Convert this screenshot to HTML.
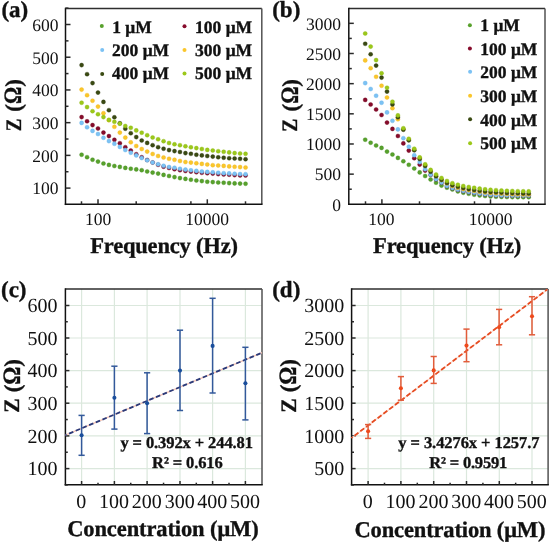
<!DOCTYPE html>
<html><head><meta charset="utf-8"><style>
html,body{margin:0;padding:0;background:#fff;overflow:hidden;width:550px;height:542px;}
svg{display:block;will-change:transform;}
text{font-family:"Liberation Serif",serif;fill:#111;text-rendering:geometricPrecision;}
text[font-weight=bold]{stroke:#111;stroke-width:0.35px;}
</style></head><body>
<svg width="550" height="542" viewBox="0 0 550 542">
<rect width="550" height="542" fill="#fff"/>
<line x1="65.5" y1="8.5" x2="261.8" y2="8.5" stroke="#2e2e2e" stroke-width="1.5"/><line x1="261.8" y1="8.5" x2="261.8" y2="204.3" stroke="#525252" stroke-width="1.5"/><line x1="65.5" y1="7.75" x2="65.5" y2="205.05" stroke="#111" stroke-width="1.5"/><line x1="64.75" y1="204.3" x2="262.55" y2="204.3" stroke="#111" stroke-width="1.5"/>
<line x1="65.5" y1="188.10" x2="70.5" y2="188.10" stroke="#2a2a2a" stroke-width="1.5"/><line x1="65.5" y1="155.38" x2="70.5" y2="155.38" stroke="#2a2a2a" stroke-width="1.5"/><line x1="65.5" y1="122.66" x2="70.5" y2="122.66" stroke="#2a2a2a" stroke-width="1.5"/><line x1="65.5" y1="89.94" x2="70.5" y2="89.94" stroke="#2a2a2a" stroke-width="1.5"/><line x1="65.5" y1="57.22" x2="70.5" y2="57.22" stroke="#2a2a2a" stroke-width="1.5"/><line x1="65.5" y1="24.50" x2="70.5" y2="24.50" stroke="#2a2a2a" stroke-width="1.5"/>
<line x1="65.5" y1="171.74" x2="68.5" y2="171.74" stroke="#2a2a2a" stroke-width="1.5"/><line x1="65.5" y1="139.02" x2="68.5" y2="139.02" stroke="#2a2a2a" stroke-width="1.5"/><line x1="65.5" y1="106.30" x2="68.5" y2="106.30" stroke="#2a2a2a" stroke-width="1.5"/><line x1="65.5" y1="73.58" x2="68.5" y2="73.58" stroke="#2a2a2a" stroke-width="1.5"/><line x1="65.5" y1="40.86" x2="68.5" y2="40.86" stroke="#2a2a2a" stroke-width="1.5"/><line x1="65.5" y1="8.14" x2="68.5" y2="8.14" stroke="#2a2a2a" stroke-width="1.5"/>
<line x1="98.00" y1="204.3" x2="98.00" y2="199.3" stroke="#2a2a2a" stroke-width="1.5"/><line x1="207.30" y1="204.3" x2="207.30" y2="199.3" stroke="#2a2a2a" stroke-width="1.5"/>
<line x1="81.50" y1="204.3" x2="81.50" y2="201.3" stroke="#2a2a2a" stroke-width="1.5"/><line x1="136.20" y1="204.3" x2="136.20" y2="201.3" stroke="#2a2a2a" stroke-width="1.5"/><line x1="190.90" y1="204.3" x2="190.90" y2="201.3" stroke="#2a2a2a" stroke-width="1.5"/><line x1="245.50" y1="204.3" x2="245.50" y2="201.3" stroke="#2a2a2a" stroke-width="1.5"/>
<g fill="#58a12c" stroke="#3f8a1c" stroke-width="0.35"><circle cx="81.60" cy="154.70" r="2.05"/><circle cx="87.06" cy="157.20" r="2.05"/><circle cx="92.53" cy="159.70" r="2.05"/><circle cx="97.99" cy="161.60" r="2.05"/><circle cx="103.46" cy="163.50" r="2.05"/><circle cx="108.92" cy="164.90" r="2.05"/><circle cx="114.39" cy="166.00" r="2.05"/><circle cx="119.85" cy="166.90" r="2.05"/><circle cx="125.32" cy="167.90" r="2.05"/><circle cx="130.78" cy="168.70" r="2.05"/><circle cx="136.25" cy="169.40" r="2.05"/><circle cx="141.71" cy="170.20" r="2.05"/><circle cx="147.18" cy="171.50" r="2.05"/><circle cx="152.64" cy="172.60" r="2.05"/><circle cx="158.11" cy="173.60" r="2.05"/><circle cx="163.57" cy="174.90" r="2.05"/><circle cx="169.04" cy="176.00" r="2.05"/><circle cx="174.50" cy="177.10" r="2.05"/><circle cx="179.97" cy="178.10" r="2.05"/><circle cx="185.44" cy="178.90" r="2.05"/><circle cx="190.90" cy="179.70" r="2.05"/><circle cx="196.37" cy="180.50" r="2.05"/><circle cx="201.83" cy="181.10" r="2.05"/><circle cx="207.29" cy="181.70" r="2.05"/><circle cx="212.76" cy="182.10" r="2.05"/><circle cx="218.22" cy="182.50" r="2.05"/><circle cx="223.69" cy="182.70" r="2.05"/><circle cx="229.16" cy="183.10" r="2.05"/><circle cx="234.62" cy="183.40" r="2.05"/><circle cx="240.08" cy="183.60" r="2.05"/><circle cx="245.55" cy="183.70" r="2.05"/></g>
<g fill="#870c2c" stroke="#6a0018" stroke-width="0.35"><circle cx="81.60" cy="117.10" r="2.05"/><circle cx="87.06" cy="121.30" r="2.05"/><circle cx="92.53" cy="125.10" r="2.05"/><circle cx="97.99" cy="128.50" r="2.05"/><circle cx="103.46" cy="132.60" r="2.05"/><circle cx="108.92" cy="136.10" r="2.05"/><circle cx="114.39" cy="139.80" r="2.05"/><circle cx="119.85" cy="143.20" r="2.05"/><circle cx="125.32" cy="147.20" r="2.05"/><circle cx="130.78" cy="150.50" r="2.05"/><circle cx="136.25" cy="154.20" r="2.05"/><circle cx="141.71" cy="157.20" r="2.05"/><circle cx="147.18" cy="160.00" r="2.05"/><circle cx="152.64" cy="162.50" r="2.05"/><circle cx="158.11" cy="164.80" r="2.05"/><circle cx="163.57" cy="166.70" r="2.05"/><circle cx="169.04" cy="168.00" r="2.05"/><circle cx="174.50" cy="169.20" r="2.05"/><circle cx="179.97" cy="170.20" r="2.05"/><circle cx="185.44" cy="171.00" r="2.05"/><circle cx="190.90" cy="171.60" r="2.05"/><circle cx="196.37" cy="172.20" r="2.05"/><circle cx="201.83" cy="172.80" r="2.05"/><circle cx="207.29" cy="173.20" r="2.05"/><circle cx="212.76" cy="173.60" r="2.05"/><circle cx="218.22" cy="174.10" r="2.05"/><circle cx="223.69" cy="174.50" r="2.05"/><circle cx="229.16" cy="174.70" r="2.05"/><circle cx="234.62" cy="175.10" r="2.05"/><circle cx="240.08" cy="175.40" r="2.05"/><circle cx="245.55" cy="175.50" r="2.05"/></g>
<g fill="#7cc2f4" stroke="#5eaee6" stroke-width="0.35"><circle cx="81.60" cy="122.90" r="2.05"/><circle cx="87.06" cy="127.30" r="2.05"/><circle cx="92.53" cy="130.90" r="2.05"/><circle cx="97.99" cy="134.00" r="2.05"/><circle cx="103.46" cy="137.80" r="2.05"/><circle cx="108.92" cy="141.10" r="2.05"/><circle cx="114.39" cy="143.80" r="2.05"/><circle cx="119.85" cy="146.90" r="2.05"/><circle cx="125.32" cy="150.00" r="2.05"/><circle cx="130.78" cy="152.70" r="2.05"/><circle cx="136.25" cy="155.40" r="2.05"/><circle cx="141.71" cy="158.00" r="2.05"/><circle cx="147.18" cy="160.30" r="2.05"/><circle cx="152.64" cy="162.50" r="2.05"/><circle cx="158.11" cy="164.20" r="2.05"/><circle cx="163.57" cy="165.80" r="2.05"/><circle cx="169.04" cy="167.00" r="2.05"/><circle cx="174.50" cy="167.80" r="2.05"/><circle cx="179.97" cy="168.80" r="2.05"/><circle cx="185.44" cy="169.60" r="2.05"/><circle cx="190.90" cy="170.30" r="2.05"/><circle cx="196.37" cy="170.90" r="2.05"/><circle cx="201.83" cy="171.50" r="2.05"/><circle cx="207.29" cy="171.90" r="2.05"/><circle cx="212.76" cy="172.30" r="2.05"/><circle cx="218.22" cy="172.80" r="2.05"/><circle cx="223.69" cy="173.20" r="2.05"/><circle cx="229.16" cy="173.40" r="2.05"/><circle cx="234.62" cy="173.80" r="2.05"/><circle cx="240.08" cy="174.10" r="2.05"/><circle cx="245.55" cy="174.20" r="2.05"/></g>
<g fill="#fac62c" stroke="#eeb414" stroke-width="0.35"><circle cx="81.60" cy="89.60" r="2.05"/><circle cx="87.06" cy="95.20" r="2.05"/><circle cx="92.53" cy="100.70" r="2.05"/><circle cx="97.99" cy="106.60" r="2.05"/><circle cx="103.46" cy="113.20" r="2.05"/><circle cx="108.92" cy="120.20" r="2.05"/><circle cx="114.39" cy="126.80" r="2.05"/><circle cx="119.85" cy="132.60" r="2.05"/><circle cx="125.32" cy="137.60" r="2.05"/><circle cx="130.78" cy="142.30" r="2.05"/><circle cx="136.25" cy="146.00" r="2.05"/><circle cx="141.71" cy="149.00" r="2.05"/><circle cx="147.18" cy="151.60" r="2.05"/><circle cx="152.64" cy="154.00" r="2.05"/><circle cx="158.11" cy="156.00" r="2.05"/><circle cx="163.57" cy="157.50" r="2.05"/><circle cx="169.04" cy="158.80" r="2.05"/><circle cx="174.50" cy="159.80" r="2.05"/><circle cx="179.97" cy="161.00" r="2.05"/><circle cx="185.44" cy="162.00" r="2.05"/><circle cx="190.90" cy="162.60" r="2.05"/><circle cx="196.37" cy="163.30" r="2.05"/><circle cx="201.83" cy="163.90" r="2.05"/><circle cx="207.29" cy="164.50" r="2.05"/><circle cx="212.76" cy="165.20" r="2.05"/><circle cx="218.22" cy="165.50" r="2.05"/><circle cx="223.69" cy="165.90" r="2.05"/><circle cx="229.16" cy="166.40" r="2.05"/><circle cx="234.62" cy="166.80" r="2.05"/><circle cx="240.08" cy="167.10" r="2.05"/><circle cx="245.55" cy="167.50" r="2.05"/></g>
<g fill="#3a4a12" stroke="#26320a" stroke-width="0.35"><circle cx="81.60" cy="65.10" r="2.05"/><circle cx="87.06" cy="74.20" r="2.05"/><circle cx="92.53" cy="83.10" r="2.05"/><circle cx="97.99" cy="92.60" r="2.05"/><circle cx="103.46" cy="101.90" r="2.05"/><circle cx="108.92" cy="110.20" r="2.05"/><circle cx="114.39" cy="117.30" r="2.05"/><circle cx="119.85" cy="123.30" r="2.05"/><circle cx="125.32" cy="128.70" r="2.05"/><circle cx="130.78" cy="133.20" r="2.05"/><circle cx="136.25" cy="137.10" r="2.05"/><circle cx="141.71" cy="140.50" r="2.05"/><circle cx="147.18" cy="142.90" r="2.05"/><circle cx="152.64" cy="145.20" r="2.05"/><circle cx="158.11" cy="147.20" r="2.05"/><circle cx="163.57" cy="148.70" r="2.05"/><circle cx="169.04" cy="150.10" r="2.05"/><circle cx="174.50" cy="151.10" r="2.05"/><circle cx="179.97" cy="152.00" r="2.05"/><circle cx="185.44" cy="153.10" r="2.05"/><circle cx="190.90" cy="153.80" r="2.05"/><circle cx="196.37" cy="154.70" r="2.05"/><circle cx="201.83" cy="155.40" r="2.05"/><circle cx="207.29" cy="156.00" r="2.05"/><circle cx="212.76" cy="156.60" r="2.05"/><circle cx="218.22" cy="157.30" r="2.05"/><circle cx="223.69" cy="157.70" r="2.05"/><circle cx="229.16" cy="158.20" r="2.05"/><circle cx="234.62" cy="158.50" r="2.05"/><circle cx="240.08" cy="158.80" r="2.05"/><circle cx="245.55" cy="159.20" r="2.05"/></g>
<g fill="#9cc81a" stroke="#84b40a" stroke-width="0.35"><circle cx="81.60" cy="102.70" r="2.05"/><circle cx="87.06" cy="107.10" r="2.05"/><circle cx="92.53" cy="111.20" r="2.05"/><circle cx="97.99" cy="114.30" r="2.05"/><circle cx="103.46" cy="117.10" r="2.05"/><circle cx="108.92" cy="119.90" r="2.05"/><circle cx="114.39" cy="121.80" r="2.05"/><circle cx="119.85" cy="123.70" r="2.05"/><circle cx="125.32" cy="126.00" r="2.05"/><circle cx="130.78" cy="127.80" r="2.05"/><circle cx="136.25" cy="130.40" r="2.05"/><circle cx="141.71" cy="132.70" r="2.05"/><circle cx="147.18" cy="135.20" r="2.05"/><circle cx="152.64" cy="137.50" r="2.05"/><circle cx="158.11" cy="139.30" r="2.05"/><circle cx="163.57" cy="141.20" r="2.05"/><circle cx="169.04" cy="143.00" r="2.05"/><circle cx="174.50" cy="144.30" r="2.05"/><circle cx="179.97" cy="145.20" r="2.05"/><circle cx="185.44" cy="146.30" r="2.05"/><circle cx="190.90" cy="147.30" r="2.05"/><circle cx="196.37" cy="148.10" r="2.05"/><circle cx="201.83" cy="149.00" r="2.05"/><circle cx="207.29" cy="149.90" r="2.05"/><circle cx="212.76" cy="150.50" r="2.05"/><circle cx="218.22" cy="151.20" r="2.05"/><circle cx="223.69" cy="151.80" r="2.05"/><circle cx="229.16" cy="152.40" r="2.05"/><circle cx="234.62" cy="153.10" r="2.05"/><circle cx="240.08" cy="153.50" r="2.05"/><circle cx="245.55" cy="153.80" r="2.05"/></g>
<line x1="348.8" y1="8.5" x2="545.0" y2="8.5" stroke="#2e2e2e" stroke-width="1.5"/><line x1="545.0" y1="8.5" x2="545.0" y2="204.3" stroke="#525252" stroke-width="1.5"/><line x1="348.8" y1="7.75" x2="348.8" y2="205.05" stroke="#111" stroke-width="1.5"/><line x1="348.05" y1="204.3" x2="545.75" y2="204.3" stroke="#111" stroke-width="1.5"/>
<line x1="348.8" y1="174.14" x2="353.8" y2="174.14" stroke="#2a2a2a" stroke-width="1.5"/><line x1="348.8" y1="143.98" x2="353.8" y2="143.98" stroke="#2a2a2a" stroke-width="1.5"/><line x1="348.8" y1="113.82" x2="353.8" y2="113.82" stroke="#2a2a2a" stroke-width="1.5"/><line x1="348.8" y1="83.66" x2="353.8" y2="83.66" stroke="#2a2a2a" stroke-width="1.5"/><line x1="348.8" y1="53.50" x2="353.8" y2="53.50" stroke="#2a2a2a" stroke-width="1.5"/><line x1="348.8" y1="23.34" x2="353.8" y2="23.34" stroke="#2a2a2a" stroke-width="1.5"/>
<line x1="348.8" y1="189.22" x2="351.8" y2="189.22" stroke="#2a2a2a" stroke-width="1.5"/><line x1="348.8" y1="159.06" x2="351.8" y2="159.06" stroke="#2a2a2a" stroke-width="1.5"/><line x1="348.8" y1="128.90" x2="351.8" y2="128.90" stroke="#2a2a2a" stroke-width="1.5"/><line x1="348.8" y1="98.74" x2="351.8" y2="98.74" stroke="#2a2a2a" stroke-width="1.5"/><line x1="348.8" y1="68.58" x2="351.8" y2="68.58" stroke="#2a2a2a" stroke-width="1.5"/><line x1="348.8" y1="38.42" x2="351.8" y2="38.42" stroke="#2a2a2a" stroke-width="1.5"/>
<line x1="381.90" y1="204.3" x2="381.90" y2="199.3" stroke="#2a2a2a" stroke-width="1.5"/><line x1="490.50" y1="204.3" x2="490.50" y2="199.3" stroke="#2a2a2a" stroke-width="1.5"/>
<line x1="365.50" y1="204.3" x2="365.50" y2="201.3" stroke="#2a2a2a" stroke-width="1.5"/><line x1="419.50" y1="204.3" x2="419.50" y2="201.3" stroke="#2a2a2a" stroke-width="1.5"/><line x1="474.50" y1="204.3" x2="474.50" y2="201.3" stroke="#2a2a2a" stroke-width="1.5"/><line x1="528.70" y1="204.3" x2="528.70" y2="201.3" stroke="#2a2a2a" stroke-width="1.5"/>
<g fill="#58a12c" stroke="#3f8a1c" stroke-width="0.35"><circle cx="365.20" cy="139.70" r="2.05"/><circle cx="370.65" cy="142.70" r="2.05"/><circle cx="376.10" cy="145.50" r="2.05"/><circle cx="381.55" cy="147.90" r="2.05"/><circle cx="387.00" cy="151.60" r="2.05"/><circle cx="392.45" cy="154.50" r="2.05"/><circle cx="397.90" cy="157.90" r="2.05"/><circle cx="403.35" cy="161.30" r="2.05"/><circle cx="408.80" cy="164.80" r="2.05"/><circle cx="414.25" cy="168.50" r="2.05"/><circle cx="419.70" cy="172.40" r="2.05"/><circle cx="425.15" cy="176.00" r="2.05"/><circle cx="430.60" cy="179.50" r="2.05"/><circle cx="436.05" cy="182.70" r="2.05"/><circle cx="441.50" cy="185.60" r="2.05"/><circle cx="446.95" cy="187.70" r="2.05"/><circle cx="452.40" cy="189.50" r="2.05"/><circle cx="457.85" cy="191.40" r="2.05"/><circle cx="463.30" cy="192.70" r="2.05"/><circle cx="468.75" cy="193.80" r="2.05"/><circle cx="474.20" cy="194.70" r="2.05"/><circle cx="479.65" cy="195.50" r="2.05"/><circle cx="485.10" cy="196.00" r="2.05"/><circle cx="490.55" cy="196.40" r="2.05"/><circle cx="496.00" cy="196.70" r="2.05"/><circle cx="501.45" cy="196.90" r="2.05"/><circle cx="506.90" cy="197.00" r="2.05"/><circle cx="512.35" cy="197.10" r="2.05"/><circle cx="517.80" cy="197.20" r="2.05"/><circle cx="523.25" cy="197.20" r="2.05"/><circle cx="528.70" cy="197.20" r="2.05"/></g>
<g fill="#870c2c" stroke="#6a0018" stroke-width="0.35"><circle cx="365.20" cy="99.90" r="2.05"/><circle cx="370.65" cy="104.50" r="2.05"/><circle cx="376.10" cy="109.50" r="2.05"/><circle cx="381.55" cy="115.00" r="2.05"/><circle cx="387.00" cy="122.60" r="2.05"/><circle cx="392.45" cy="128.90" r="2.05"/><circle cx="397.90" cy="136.00" r="2.05"/><circle cx="403.35" cy="143.40" r="2.05"/><circle cx="408.80" cy="150.60" r="2.05"/><circle cx="414.25" cy="158.20" r="2.05"/><circle cx="419.70" cy="164.60" r="2.05"/><circle cx="425.15" cy="170.60" r="2.05"/><circle cx="430.60" cy="174.90" r="2.05"/><circle cx="436.05" cy="179.40" r="2.05"/><circle cx="441.50" cy="182.80" r="2.05"/><circle cx="446.95" cy="186.10" r="2.05"/><circle cx="452.40" cy="188.30" r="2.05"/><circle cx="457.85" cy="189.90" r="2.05"/><circle cx="463.30" cy="191.20" r="2.05"/><circle cx="468.75" cy="192.20" r="2.05"/><circle cx="474.20" cy="193.00" r="2.05"/><circle cx="479.65" cy="193.80" r="2.05"/><circle cx="485.10" cy="194.50" r="2.05"/><circle cx="490.55" cy="195.00" r="2.05"/><circle cx="496.00" cy="195.40" r="2.05"/><circle cx="501.45" cy="195.60" r="2.05"/><circle cx="506.90" cy="195.70" r="2.05"/><circle cx="512.35" cy="195.80" r="2.05"/><circle cx="517.80" cy="195.80" r="2.05"/><circle cx="523.25" cy="195.80" r="2.05"/><circle cx="528.70" cy="195.80" r="2.05"/></g>
<g fill="#7cc2f4" stroke="#5eaee6" stroke-width="0.35"><circle cx="365.20" cy="83.10" r="2.05"/><circle cx="370.65" cy="89.00" r="2.05"/><circle cx="376.10" cy="95.70" r="2.05"/><circle cx="381.55" cy="102.70" r="2.05"/><circle cx="387.00" cy="112.40" r="2.05"/><circle cx="392.45" cy="120.80" r="2.05"/><circle cx="397.90" cy="129.40" r="2.05"/><circle cx="403.35" cy="138.20" r="2.05"/><circle cx="408.80" cy="146.70" r="2.05"/><circle cx="414.25" cy="155.30" r="2.05"/><circle cx="419.70" cy="162.10" r="2.05"/><circle cx="425.15" cy="169.30" r="2.05"/><circle cx="430.60" cy="174.70" r="2.05"/><circle cx="436.05" cy="179.20" r="2.05"/><circle cx="441.50" cy="182.60" r="2.05"/><circle cx="446.95" cy="185.90" r="2.05"/><circle cx="452.40" cy="188.10" r="2.05"/><circle cx="457.85" cy="189.70" r="2.05"/><circle cx="463.30" cy="191.00" r="2.05"/><circle cx="468.75" cy="192.00" r="2.05"/><circle cx="474.20" cy="192.80" r="2.05"/><circle cx="479.65" cy="193.60" r="2.05"/><circle cx="485.10" cy="194.30" r="2.05"/><circle cx="490.55" cy="194.80" r="2.05"/><circle cx="496.00" cy="195.20" r="2.05"/><circle cx="501.45" cy="195.40" r="2.05"/><circle cx="506.90" cy="195.50" r="2.05"/><circle cx="512.35" cy="195.60" r="2.05"/><circle cx="517.80" cy="195.60" r="2.05"/><circle cx="523.25" cy="195.60" r="2.05"/><circle cx="528.70" cy="195.60" r="2.05"/></g>
<g fill="#fac62c" stroke="#eeb414" stroke-width="0.35"><circle cx="365.20" cy="60.40" r="2.05"/><circle cx="370.65" cy="68.20" r="2.05"/><circle cx="376.10" cy="76.80" r="2.05"/><circle cx="381.55" cy="85.70" r="2.05"/><circle cx="387.00" cy="97.50" r="2.05"/><circle cx="392.45" cy="108.20" r="2.05"/><circle cx="397.90" cy="119.30" r="2.05"/><circle cx="403.35" cy="129.20" r="2.05"/><circle cx="408.80" cy="139.80" r="2.05"/><circle cx="414.25" cy="149.70" r="2.05"/><circle cx="419.70" cy="158.40" r="2.05"/><circle cx="425.15" cy="165.30" r="2.05"/><circle cx="430.60" cy="170.90" r="2.05"/><circle cx="436.05" cy="175.95" r="2.05"/><circle cx="441.50" cy="179.90" r="2.05"/><circle cx="446.95" cy="183.35" r="2.05"/><circle cx="452.40" cy="186.00" r="2.05"/><circle cx="457.85" cy="187.80" r="2.05"/><circle cx="463.30" cy="189.10" r="2.05"/><circle cx="468.75" cy="190.10" r="2.05"/><circle cx="474.20" cy="190.90" r="2.05"/><circle cx="479.65" cy="191.70" r="2.05"/><circle cx="485.10" cy="192.40" r="2.05"/><circle cx="490.55" cy="192.90" r="2.05"/><circle cx="496.00" cy="193.30" r="2.05"/><circle cx="501.45" cy="193.60" r="2.05"/><circle cx="506.90" cy="193.90" r="2.05"/><circle cx="512.35" cy="194.10" r="2.05"/><circle cx="517.80" cy="194.30" r="2.05"/><circle cx="523.25" cy="194.40" r="2.05"/><circle cx="528.70" cy="194.50" r="2.05"/></g>
<g fill="#3a4a12" stroke="#26320a" stroke-width="0.35"><circle cx="365.20" cy="43.80" r="2.05"/><circle cx="370.65" cy="54.30" r="2.05"/><circle cx="376.10" cy="65.60" r="2.05"/><circle cx="381.55" cy="77.60" r="2.05"/><circle cx="387.00" cy="91.60" r="2.05"/><circle cx="392.45" cy="104.40" r="2.05"/><circle cx="397.90" cy="117.30" r="2.05"/><circle cx="403.35" cy="129.70" r="2.05"/><circle cx="408.80" cy="140.35" r="2.05"/><circle cx="414.25" cy="150.30" r="2.05"/><circle cx="419.70" cy="159.05" r="2.05"/><circle cx="425.15" cy="166.00" r="2.05"/><circle cx="430.60" cy="171.65" r="2.05"/><circle cx="436.05" cy="176.30" r="2.05"/><circle cx="441.50" cy="179.85" r="2.05"/><circle cx="446.95" cy="182.90" r="2.05"/><circle cx="452.40" cy="185.15" r="2.05"/><circle cx="457.85" cy="186.70" r="2.05"/><circle cx="463.30" cy="188.05" r="2.05"/><circle cx="468.75" cy="189.10" r="2.05"/><circle cx="474.20" cy="189.90" r="2.05"/><circle cx="479.65" cy="190.70" r="2.05"/><circle cx="485.10" cy="191.40" r="2.05"/><circle cx="490.55" cy="191.90" r="2.05"/><circle cx="496.00" cy="192.30" r="2.05"/><circle cx="501.45" cy="192.60" r="2.05"/><circle cx="506.90" cy="192.90" r="2.05"/><circle cx="512.35" cy="193.10" r="2.05"/><circle cx="517.80" cy="193.30" r="2.05"/><circle cx="523.25" cy="193.40" r="2.05"/><circle cx="528.70" cy="193.50" r="2.05"/></g>
<g fill="#9cc81a" stroke="#84b40a" stroke-width="0.35"><circle cx="365.20" cy="33.50" r="2.05"/><circle cx="370.65" cy="46.60" r="2.05"/><circle cx="376.10" cy="60.10" r="2.05"/><circle cx="381.55" cy="73.30" r="2.05"/><circle cx="387.00" cy="87.70" r="2.05"/><circle cx="392.45" cy="101.70" r="2.05"/><circle cx="397.90" cy="115.40" r="2.05"/><circle cx="403.35" cy="128.20" r="2.05"/><circle cx="408.80" cy="138.80" r="2.05"/><circle cx="414.25" cy="148.70" r="2.05"/><circle cx="419.70" cy="157.40" r="2.05"/><circle cx="425.15" cy="164.30" r="2.05"/><circle cx="430.60" cy="169.90" r="2.05"/><circle cx="436.05" cy="174.50" r="2.05"/><circle cx="441.50" cy="178.00" r="2.05"/><circle cx="446.95" cy="181.00" r="2.05"/><circle cx="452.40" cy="183.20" r="2.05"/><circle cx="457.85" cy="184.70" r="2.05"/><circle cx="463.30" cy="186.00" r="2.05"/><circle cx="468.75" cy="187.00" r="2.05"/><circle cx="474.20" cy="187.80" r="2.05"/><circle cx="479.65" cy="188.60" r="2.05"/><circle cx="485.10" cy="189.30" r="2.05"/><circle cx="490.55" cy="189.80" r="2.05"/><circle cx="496.00" cy="190.20" r="2.05"/><circle cx="501.45" cy="190.50" r="2.05"/><circle cx="506.90" cy="190.80" r="2.05"/><circle cx="512.35" cy="191.00" r="2.05"/><circle cx="517.80" cy="191.20" r="2.05"/><circle cx="523.25" cy="191.30" r="2.05"/><circle cx="528.70" cy="191.40" r="2.05"/></g>
<line x1="81.6" y1="289.0" x2="81.6" y2="484.7" stroke="#dbe8dd" stroke-width="1.2"/>
<line x1="114.4" y1="289.0" x2="114.4" y2="484.7" stroke="#dbe8dd" stroke-width="1.2"/>
<line x1="147.1" y1="289.0" x2="147.1" y2="484.7" stroke="#dbe8dd" stroke-width="1.2"/>
<line x1="180.0" y1="289.0" x2="180.0" y2="484.7" stroke="#dbe8dd" stroke-width="1.2"/>
<line x1="212.6" y1="289.0" x2="212.6" y2="484.7" stroke="#dbe8dd" stroke-width="1.2"/>
<line x1="245.4" y1="289.0" x2="245.4" y2="484.7" stroke="#dbe8dd" stroke-width="1.2"/>
<line x1="65.4" y1="305.5" x2="262.0" y2="305.5" stroke="#dbe8dd" stroke-width="1.2"/>
<line x1="65.4" y1="338.0" x2="262.0" y2="338.0" stroke="#dbe8dd" stroke-width="1.2"/>
<line x1="65.4" y1="370.6" x2="262.0" y2="370.6" stroke="#dbe8dd" stroke-width="1.2"/>
<line x1="65.4" y1="403.2" x2="262.0" y2="403.2" stroke="#dbe8dd" stroke-width="1.2"/>
<line x1="65.4" y1="435.9" x2="262.0" y2="435.9" stroke="#dbe8dd" stroke-width="1.2"/>
<line x1="65.4" y1="468.6" x2="262.0" y2="468.6" stroke="#dbe8dd" stroke-width="1.2"/>
<line x1="65.4" y1="289.0" x2="262.0" y2="289.0" stroke="#2e2e2e" stroke-width="1.5"/><line x1="262.0" y1="289.0" x2="262.0" y2="484.7" stroke="#525252" stroke-width="1.5"/><line x1="65.4" y1="288.25" x2="65.4" y2="485.45" stroke="#111" stroke-width="1.5"/><line x1="64.65" y1="484.7" x2="262.75" y2="484.7" stroke="#111" stroke-width="1.5"/>
<line x1="65.4" y1="305.50" x2="69.4" y2="305.50" stroke="#2a2a2a" stroke-width="1.5"/><line x1="65.4" y1="338.00" x2="69.4" y2="338.00" stroke="#2a2a2a" stroke-width="1.5"/><line x1="65.4" y1="370.60" x2="69.4" y2="370.60" stroke="#2a2a2a" stroke-width="1.5"/><line x1="65.4" y1="403.20" x2="69.4" y2="403.20" stroke="#2a2a2a" stroke-width="1.5"/><line x1="65.4" y1="435.90" x2="69.4" y2="435.90" stroke="#2a2a2a" stroke-width="1.5"/><line x1="65.4" y1="468.60" x2="69.4" y2="468.60" stroke="#2a2a2a" stroke-width="1.5"/>
<line x1="65.4" y1="321.75" x2="67.80000000000001" y2="321.75" stroke="#2a2a2a" stroke-width="1.5"/><line x1="65.4" y1="354.30" x2="67.80000000000001" y2="354.30" stroke="#2a2a2a" stroke-width="1.5"/><line x1="65.4" y1="386.90" x2="67.80000000000001" y2="386.90" stroke="#2a2a2a" stroke-width="1.5"/><line x1="65.4" y1="419.55" x2="67.80000000000001" y2="419.55" stroke="#2a2a2a" stroke-width="1.5"/><line x1="65.4" y1="452.25" x2="67.80000000000001" y2="452.25" stroke="#2a2a2a" stroke-width="1.5"/><line x1="65.4" y1="484.95" x2="67.80000000000001" y2="484.95" stroke="#2a2a2a" stroke-width="1.5"/>
<line x1="81.60" y1="484.7" x2="81.60" y2="481.0" stroke="#2a2a2a" stroke-width="1.5"/><line x1="114.40" y1="484.7" x2="114.40" y2="481.0" stroke="#2a2a2a" stroke-width="1.5"/><line x1="147.10" y1="484.7" x2="147.10" y2="481.0" stroke="#2a2a2a" stroke-width="1.5"/><line x1="180.00" y1="484.7" x2="180.00" y2="481.0" stroke="#2a2a2a" stroke-width="1.5"/><line x1="212.60" y1="484.7" x2="212.60" y2="481.0" stroke="#2a2a2a" stroke-width="1.5"/><line x1="245.40" y1="484.7" x2="245.40" y2="481.0" stroke="#2a2a2a" stroke-width="1.5"/>
<line x1="98.00" y1="484.7" x2="98.00" y2="482.7" stroke="#2a2a2a" stroke-width="1.5"/><line x1="130.75" y1="484.7" x2="130.75" y2="482.7" stroke="#2a2a2a" stroke-width="1.5"/><line x1="163.55" y1="484.7" x2="163.55" y2="482.7" stroke="#2a2a2a" stroke-width="1.5"/><line x1="196.30" y1="484.7" x2="196.30" y2="482.7" stroke="#2a2a2a" stroke-width="1.5"/><line x1="229.00" y1="484.7" x2="229.00" y2="482.7" stroke="#2a2a2a" stroke-width="1.5"/>
<line x1="65.4" y1="435.1" x2="262.0" y2="352.7" stroke="#f2c2b4" stroke-width="1.4"/>
<line x1="65.4" y1="435.1" x2="262.0" y2="352.7" stroke="#2a3a7a" stroke-width="1.8" stroke-dasharray="4.6 2.65" stroke-dashoffset="3.3"/>
<g stroke="#33599b" stroke-width="1.5"><line x1="81.6" y1="415.4" x2="81.6" y2="455.3"/><line x1="78.5" y1="415.4" x2="84.69999999999999" y2="415.4"/><line x1="78.5" y1="455.3" x2="84.69999999999999" y2="455.3"/></g>
<circle cx="81.6" cy="435.3" r="2.05" fill="#1a4e9c"/>
<g stroke="#33599b" stroke-width="1.5"><line x1="114.4" y1="366.2" x2="114.4" y2="429.1"/><line x1="111.30000000000001" y1="366.2" x2="117.5" y2="366.2"/><line x1="111.30000000000001" y1="429.1" x2="117.5" y2="429.1"/></g>
<circle cx="114.4" cy="397.7" r="2.05" fill="#1a4e9c"/>
<g stroke="#33599b" stroke-width="1.5"><line x1="147.1" y1="372.8" x2="147.1" y2="433.6"/><line x1="144.0" y1="372.8" x2="150.2" y2="372.8"/><line x1="144.0" y1="433.6" x2="150.2" y2="433.6"/></g>
<circle cx="147.1" cy="403.2" r="2.05" fill="#1a4e9c"/>
<g stroke="#33599b" stroke-width="1.5"><line x1="180.0" y1="330.2" x2="180.0" y2="410.5"/><line x1="176.9" y1="330.2" x2="183.1" y2="330.2"/><line x1="176.9" y1="410.5" x2="183.1" y2="410.5"/></g>
<circle cx="180.0" cy="370.6" r="2.05" fill="#1a4e9c"/>
<g stroke="#33599b" stroke-width="1.5"><line x1="212.6" y1="298.3" x2="212.6" y2="393.0"/><line x1="209.5" y1="298.3" x2="215.7" y2="298.3"/><line x1="209.5" y1="393.0" x2="215.7" y2="393.0"/></g>
<circle cx="212.6" cy="345.9" r="2.05" fill="#1a4e9c"/>
<g stroke="#33599b" stroke-width="1.5"><line x1="245.4" y1="347.3" x2="245.4" y2="419.9"/><line x1="242.3" y1="347.3" x2="248.5" y2="347.3"/><line x1="242.3" y1="419.9" x2="248.5" y2="419.9"/></g>
<circle cx="245.4" cy="383.3" r="2.05" fill="#1a4e9c"/>
<line x1="368.1" y1="289.0" x2="368.1" y2="484.7" stroke="#dbe8dd" stroke-width="1.2"/>
<line x1="400.9" y1="289.0" x2="400.9" y2="484.7" stroke="#dbe8dd" stroke-width="1.2"/>
<line x1="433.7" y1="289.0" x2="433.7" y2="484.7" stroke="#dbe8dd" stroke-width="1.2"/>
<line x1="466.5" y1="289.0" x2="466.5" y2="484.7" stroke="#dbe8dd" stroke-width="1.2"/>
<line x1="499.3" y1="289.0" x2="499.3" y2="484.7" stroke="#dbe8dd" stroke-width="1.2"/>
<line x1="532.0" y1="289.0" x2="532.0" y2="484.7" stroke="#dbe8dd" stroke-width="1.2"/>
<line x1="351.6" y1="305.5" x2="548.1" y2="305.5" stroke="#dbe8dd" stroke-width="1.2"/>
<line x1="351.6" y1="338.0" x2="548.1" y2="338.0" stroke="#dbe8dd" stroke-width="1.2"/>
<line x1="351.6" y1="370.6" x2="548.1" y2="370.6" stroke="#dbe8dd" stroke-width="1.2"/>
<line x1="351.6" y1="403.2" x2="548.1" y2="403.2" stroke="#dbe8dd" stroke-width="1.2"/>
<line x1="351.6" y1="435.9" x2="548.1" y2="435.9" stroke="#dbe8dd" stroke-width="1.2"/>
<line x1="351.6" y1="468.6" x2="548.1" y2="468.6" stroke="#dbe8dd" stroke-width="1.2"/>
<line x1="351.6" y1="289.0" x2="548.1" y2="289.0" stroke="#2e2e2e" stroke-width="1.5"/><line x1="548.1" y1="289.0" x2="548.1" y2="484.7" stroke="#525252" stroke-width="1.5"/><line x1="351.6" y1="288.25" x2="351.6" y2="485.45" stroke="#111" stroke-width="1.5"/><line x1="350.85" y1="484.7" x2="548.85" y2="484.7" stroke="#111" stroke-width="1.5"/>
<line x1="351.6" y1="305.50" x2="355.6" y2="305.50" stroke="#2a2a2a" stroke-width="1.5"/><line x1="351.6" y1="338.00" x2="355.6" y2="338.00" stroke="#2a2a2a" stroke-width="1.5"/><line x1="351.6" y1="370.60" x2="355.6" y2="370.60" stroke="#2a2a2a" stroke-width="1.5"/><line x1="351.6" y1="403.20" x2="355.6" y2="403.20" stroke="#2a2a2a" stroke-width="1.5"/><line x1="351.6" y1="435.90" x2="355.6" y2="435.90" stroke="#2a2a2a" stroke-width="1.5"/><line x1="351.6" y1="468.60" x2="355.6" y2="468.60" stroke="#2a2a2a" stroke-width="1.5"/>
<line x1="351.6" y1="321.75" x2="354.0" y2="321.75" stroke="#2a2a2a" stroke-width="1.5"/><line x1="351.6" y1="354.30" x2="354.0" y2="354.30" stroke="#2a2a2a" stroke-width="1.5"/><line x1="351.6" y1="386.90" x2="354.0" y2="386.90" stroke="#2a2a2a" stroke-width="1.5"/><line x1="351.6" y1="419.55" x2="354.0" y2="419.55" stroke="#2a2a2a" stroke-width="1.5"/><line x1="351.6" y1="452.25" x2="354.0" y2="452.25" stroke="#2a2a2a" stroke-width="1.5"/><line x1="351.6" y1="484.95" x2="354.0" y2="484.95" stroke="#2a2a2a" stroke-width="1.5"/>
<line x1="368.10" y1="484.7" x2="368.10" y2="481.0" stroke="#2a2a2a" stroke-width="1.5"/><line x1="400.90" y1="484.7" x2="400.90" y2="481.0" stroke="#2a2a2a" stroke-width="1.5"/><line x1="433.70" y1="484.7" x2="433.70" y2="481.0" stroke="#2a2a2a" stroke-width="1.5"/><line x1="466.50" y1="484.7" x2="466.50" y2="481.0" stroke="#2a2a2a" stroke-width="1.5"/><line x1="499.30" y1="484.7" x2="499.30" y2="481.0" stroke="#2a2a2a" stroke-width="1.5"/><line x1="532.00" y1="484.7" x2="532.00" y2="481.0" stroke="#2a2a2a" stroke-width="1.5"/>
<line x1="384.50" y1="484.7" x2="384.50" y2="482.7" stroke="#2a2a2a" stroke-width="1.5"/><line x1="417.30" y1="484.7" x2="417.30" y2="482.7" stroke="#2a2a2a" stroke-width="1.5"/><line x1="450.10" y1="484.7" x2="450.10" y2="482.7" stroke="#2a2a2a" stroke-width="1.5"/><line x1="482.90" y1="484.7" x2="482.90" y2="482.7" stroke="#2a2a2a" stroke-width="1.5"/><line x1="515.65" y1="484.7" x2="515.65" y2="482.7" stroke="#2a2a2a" stroke-width="1.5"/>
<line x1="351.6" y1="437.9" x2="547.4" y2="289.4" stroke="#fad8cc" stroke-width="1.2"/>
<line x1="351.6" y1="437.9" x2="547.4" y2="289.4" stroke="#e64c22" stroke-width="1.8" stroke-dasharray="4.9 2.35" stroke-dashoffset="3.6"/>
<g stroke="#e25c3a" stroke-width="1.5"><line x1="368.1" y1="424.6" x2="368.1" y2="438.4"/><line x1="365.0" y1="424.6" x2="371.20000000000005" y2="424.6"/><line x1="365.0" y1="438.4" x2="371.20000000000005" y2="438.4"/></g>
<circle cx="368.1" cy="431.2" r="2.05" fill="#ee4a1c"/>
<g stroke="#e25c3a" stroke-width="1.5"><line x1="400.9" y1="376.6" x2="400.9" y2="400.2"/><line x1="397.79999999999995" y1="376.6" x2="404.0" y2="376.6"/><line x1="397.79999999999995" y1="400.2" x2="404.0" y2="400.2"/></g>
<circle cx="400.9" cy="388.2" r="2.05" fill="#ee4a1c"/>
<g stroke="#e25c3a" stroke-width="1.5"><line x1="433.7" y1="356.5" x2="433.7" y2="383.4"/><line x1="430.59999999999997" y1="356.5" x2="436.8" y2="356.5"/><line x1="430.59999999999997" y1="383.4" x2="436.8" y2="383.4"/></g>
<circle cx="433.7" cy="370.4" r="2.05" fill="#ee4a1c"/>
<g stroke="#e25c3a" stroke-width="1.5"><line x1="466.5" y1="329.1" x2="466.5" y2="361.7"/><line x1="463.4" y1="329.1" x2="469.6" y2="329.1"/><line x1="463.4" y1="361.7" x2="469.6" y2="361.7"/></g>
<circle cx="466.5" cy="345.6" r="2.05" fill="#ee4a1c"/>
<g stroke="#e25c3a" stroke-width="1.5"><line x1="499.1" y1="309.4" x2="499.1" y2="344.8"/><line x1="496.0" y1="309.4" x2="502.20000000000005" y2="309.4"/><line x1="496.0" y1="344.8" x2="502.20000000000005" y2="344.8"/></g>
<circle cx="499.1" cy="327.2" r="2.05" fill="#ee4a1c"/>
<g stroke="#e25c3a" stroke-width="1.5"><line x1="532.0" y1="296.7" x2="532.0" y2="334.8"/><line x1="528.9" y1="296.7" x2="535.1" y2="296.7"/><line x1="528.9" y1="334.8" x2="535.1" y2="334.8"/></g>
<circle cx="532.0" cy="316.3" r="2.05" fill="#ee4a1c"/>
<circle cx="101.8" cy="25.9" r="2.0" fill="#58a12c"/>
<circle cx="184.5" cy="26.2" r="2.0" fill="#870c2c"/>
<circle cx="102.2" cy="49.9" r="2.0" fill="#7cc2f4"/>
<circle cx="184.5" cy="49.9" r="2.0" fill="#fac62c"/>
<circle cx="102.2" cy="73.9" r="2.0" fill="#3a4a12"/>
<circle cx="184.5" cy="73.6" r="2.0" fill="#9cc81a"/>
<circle cx="469.9" cy="25.2" r="2.0" fill="#58a12c"/>
<circle cx="469.9" cy="48.5" r="2.0" fill="#870c2c"/>
<circle cx="470.1" cy="71.8" r="2.0" fill="#7cc2f4"/>
<circle cx="470.1" cy="95.7" r="2.0" fill="#fac62c"/>
<circle cx="470.1" cy="119.3" r="2.0" fill="#3a4a12"/>
<circle cx="470.1" cy="143.3" r="2.0" fill="#9cc81a"/>
<text x="1.4" y="16.6" font-size="23" text-anchor="start" font-weight="bold" >(a)</text>
<text x="272.2" y="16.7" font-size="23" text-anchor="start" font-weight="bold" >(b)</text>
<text x="1.0" y="297.3" font-size="23" text-anchor="start" font-weight="bold" >(c)</text>
<text x="272.2" y="297.3" font-size="23" text-anchor="start" font-weight="bold" >(d)</text>
<text x="58.45" y="194.4" font-size="17.5" text-anchor="end" font-weight="normal" >100</text>
<text x="58.45" y="161.68" font-size="17.5" text-anchor="end" font-weight="normal" >200</text>
<text x="58.45" y="128.96" font-size="17.5" text-anchor="end" font-weight="normal" >300</text>
<text x="58.45" y="96.24" font-size="17.5" text-anchor="end" font-weight="normal" >400</text>
<text x="58.45" y="63.52" font-size="17.5" text-anchor="end" font-weight="normal" >500</text>
<text x="58.45" y="30.8" font-size="17.5" text-anchor="end" font-weight="normal" >600</text>
<text x="341.1" y="210.6" font-size="17.5" text-anchor="end" font-weight="normal" >0</text>
<text x="341.1" y="180.44" font-size="17.5" text-anchor="end" font-weight="normal" >500</text>
<text x="341.1" y="150.28" font-size="17.5" text-anchor="end" font-weight="normal" >1000</text>
<text x="341.1" y="120.12" font-size="17.5" text-anchor="end" font-weight="normal" >1500</text>
<text x="341.1" y="89.96" font-size="17.5" text-anchor="end" font-weight="normal" >2000</text>
<text x="341.1" y="59.8" font-size="17.5" text-anchor="end" font-weight="normal" >2500</text>
<text x="341.1" y="29.64" font-size="17.5" text-anchor="end" font-weight="normal" >3000</text>
<text x="98" y="224.9" font-size="17.5" text-anchor="middle" font-weight="normal" >100</text>
<text x="207.2" y="225" font-size="17.5" text-anchor="middle" font-weight="normal" >10000</text>
<text x="381.4" y="225" font-size="17.5" text-anchor="middle" font-weight="normal" >100</text>
<text x="490.6" y="225" font-size="17.5" text-anchor="middle" font-weight="normal" >10000</text>
<text x="90.2" y="252.6" font-size="22.5" text-anchor="start" font-weight="bold" textLength="147.8" lengthAdjust="spacing">Frequency (Hz)</text>
<text x="373.1" y="252.5" font-size="22.5" text-anchor="start" font-weight="bold" textLength="148.2" lengthAdjust="spacing">Frequency (Hz)</text>
<text x="67.2" y="536.4" font-size="22.5" text-anchor="start" font-weight="bold" textLength="191.5" lengthAdjust="spacing">Concentration (μM)</text>
<text x="354.5" y="536.5" font-size="22.5" text-anchor="start" font-weight="bold" textLength="190.9" lengthAdjust="spacing">Concentration (μM)</text>
<text transform="translate(20.5,131.20000000000002) rotate(-90)" font-size="22" font-weight="bold" textLength="12.6" lengthAdjust="spacingAndGlyphs">Z</text>
<text transform="translate(20.8,111.7) rotate(-90)" font-size="23" font-weight="bold">(<tspan font-size="25" textLength="17.2" lengthAdjust="spacingAndGlyphs">Ω</tspan>)</text>
<text transform="translate(297.2,131.70000000000002) rotate(-90)" font-size="22" font-weight="bold" textLength="13.0" lengthAdjust="spacingAndGlyphs">Z</text>
<text transform="translate(297.5,111.5) rotate(-90)" font-size="23" font-weight="bold">(<tspan font-size="25" textLength="17.2" lengthAdjust="spacingAndGlyphs">Ω</tspan>)</text>
<text transform="translate(19.2,412.8) rotate(-90)" font-size="22" font-weight="bold" textLength="14.4" lengthAdjust="spacingAndGlyphs">Z</text>
<text transform="translate(19.5,392.29999999999995) rotate(-90)" font-size="23" font-weight="bold">(<tspan font-size="25" textLength="18.0" lengthAdjust="spacingAndGlyphs">Ω</tspan>)</text>
<text transform="translate(296.0,412.8) rotate(-90)" font-size="22" font-weight="bold" textLength="14.4" lengthAdjust="spacingAndGlyphs">Z</text>
<text transform="translate(296.3,392.29999999999995) rotate(-90)" font-size="23" font-weight="bold">(<tspan font-size="25" textLength="18.0" lengthAdjust="spacingAndGlyphs">Ω</tspan>)</text>
<text x="57.5" y="312.2" font-size="20" text-anchor="end" font-weight="normal" >600</text>
<text x="57.5" y="344.7" font-size="20" text-anchor="end" font-weight="normal" >500</text>
<text x="57.5" y="377.3" font-size="20" text-anchor="end" font-weight="normal" >400</text>
<text x="57.5" y="409.9" font-size="20" text-anchor="end" font-weight="normal" >300</text>
<text x="57.5" y="442.6" font-size="20" text-anchor="end" font-weight="normal" >200</text>
<text x="57.5" y="475.3" font-size="20" text-anchor="end" font-weight="normal" >100</text>
<text x="344.2" y="312.2" font-size="20" text-anchor="end" font-weight="normal" >3000</text>
<text x="344.2" y="344.7" font-size="20" text-anchor="end" font-weight="normal" >2500</text>
<text x="344.2" y="377.3" font-size="20" text-anchor="end" font-weight="normal" >2000</text>
<text x="344.2" y="409.9" font-size="20" text-anchor="end" font-weight="normal" >1500</text>
<text x="344.2" y="442.6" font-size="20" text-anchor="end" font-weight="normal" >1000</text>
<text x="344.2" y="475.3" font-size="20" text-anchor="end" font-weight="normal" >500</text>
<text x="81.3" y="508.2" font-size="20" text-anchor="middle" font-weight="normal" >0</text>
<text x="367.8" y="508.2" font-size="20" text-anchor="middle" font-weight="normal" >0</text>
<text x="114.10000000000001" y="508.2" font-size="20" text-anchor="middle" font-weight="normal" >100</text>
<text x="400.59999999999997" y="508.2" font-size="20" text-anchor="middle" font-weight="normal" >100</text>
<text x="146.79999999999998" y="508.2" font-size="20" text-anchor="middle" font-weight="normal" >200</text>
<text x="433.4" y="508.2" font-size="20" text-anchor="middle" font-weight="normal" >200</text>
<text x="179.7" y="508.2" font-size="20" text-anchor="middle" font-weight="normal" >300</text>
<text x="466.2" y="508.2" font-size="20" text-anchor="middle" font-weight="normal" >300</text>
<text x="212.29999999999998" y="508.2" font-size="20" text-anchor="middle" font-weight="normal" >400</text>
<text x="499.0" y="508.2" font-size="20" text-anchor="middle" font-weight="normal" >400</text>
<text x="245.1" y="508.2" font-size="20" text-anchor="middle" font-weight="normal" >500</text>
<text x="531.7" y="508.2" font-size="20" text-anchor="middle" font-weight="normal" >500</text>
<text x="120.4" y="448.1" font-size="16.5" text-anchor="start" font-weight="bold" textLength="132.6" lengthAdjust="spacing">y = 0.392x + 244.81</text>
<text x="152.1" y="467.6" font-size="16.5" text-anchor="start" font-weight="bold" textLength="70.6" lengthAdjust="spacing">R² = 0.616</text>
<text x="398.3" y="448.1" font-size="16.5" text-anchor="start" font-weight="bold" textLength="141.2" lengthAdjust="spacing">y = 3.4276x + 1257.7</text>
<text x="429.3" y="467.6" font-size="16.5" text-anchor="start" font-weight="bold" textLength="78" lengthAdjust="spacing">R² = 0.9591</text>
<text x="112.2" y="32.5" font-size="17.5" text-anchor="start" font-weight="bold" >1 μM</text>
<text x="195.0" y="32.5" font-size="17.5" text-anchor="start" font-weight="bold" >100 μM</text>
<text x="112.0" y="55.7" font-size="17.5" text-anchor="start" font-weight="bold" >200 μM</text>
<text x="195.0" y="55.7" font-size="17.5" text-anchor="start" font-weight="bold" >300 μM</text>
<text x="112.0" y="79.4" font-size="17.5" text-anchor="start" font-weight="bold" >400 μM</text>
<text x="195.0" y="79.4" font-size="17.5" text-anchor="start" font-weight="bold" >500 μM</text>
<text x="480.3" y="31.0" font-size="17.5" text-anchor="start" font-weight="bold" >1 μM</text>
<text x="480.3" y="54.7" font-size="17.5" text-anchor="start" font-weight="bold" >100 μM</text>
<text x="480.3" y="77.5" font-size="17.5" text-anchor="start" font-weight="bold" >200 μM</text>
<text x="480.3" y="102.2" font-size="17.5" text-anchor="start" font-weight="bold" >300 μM</text>
<text x="480.3" y="125.5" font-size="17.5" text-anchor="start" font-weight="bold" >400 μM</text>
<text x="480.3" y="149.1" font-size="17.5" text-anchor="start" font-weight="bold" >500 μM</text>
</svg></body></html>
